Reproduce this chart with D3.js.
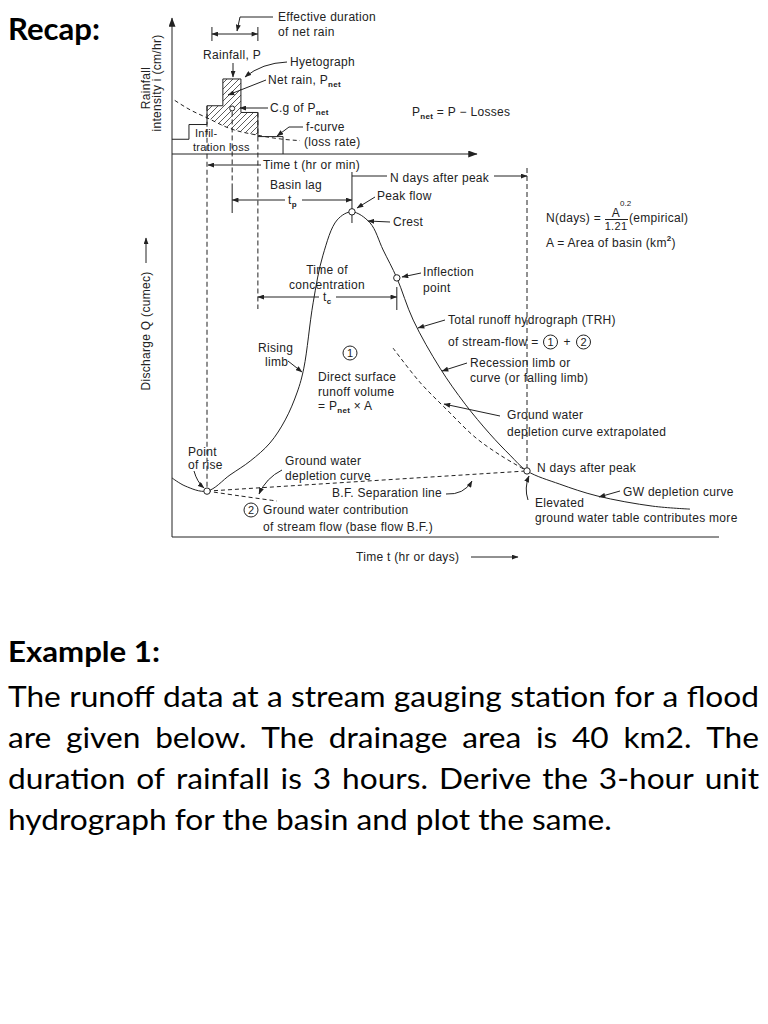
<!DOCTYPE html>
<html lang="en">
<head>
<meta charset="UTF-8">
<title>Hydrograph recap</title>
<script src="https://d3js.org/d3.v7.min.js"></script>
<style>
  body { margin: 0; background: #fff; }
  svg { display: block; }
  .lbl { font-family: "Liberation Sans", Arial, sans-serif; font-size: 12px; fill: #222; letter-spacing: 0.3px; }
  .ln { fill: none; stroke: #222; stroke-width: 1; }
</style>
</head>
<body>
<svg id="chart" width="768" height="1024"></svg>
<script>
// rainfall hyetograph: step edges (time units) and gross intensity (cm/hr) of each step
const rainEdges = [0, 3.1, 6.4, 9.3, 12.6, 15.7, 20.3];
const rainIntensity = [1.1, 2.2, 3.6, 5.6, 3.1, 1.3];

// infiltration capacity, f-curve (loss rate)
const fCurveTime = [0.5, 3.3, 6.4, 10.6, 15.7, 20.3, 23.4];
const fCurveRate = [4.0, 3.3, 2.7, 1.9, 1.4, 1.1, 1.0];

// total runoff hydrograph (discharge, relative units)
const trhTime = [0, 2.4, 6.4, 10.6, 14.3, 17.9, 20.7, 22.9, 24.1, 25.8, 27.6, 30.2, 32.9, 36.2, 38.6, 41.1, 44.1, 49.0, 53.6, 58.1, 61.8, 64.9, 70.9, 77.7, 87.9, 94.7];
const trhFlow = [16.1, 13.9, 12.5, 16.9, 20.7, 25.6, 31.9, 39.5, 46.0, 63.8, 76.8, 86.4, 88.6, 85.6, 78.2, 70.6, 59.1, 46.0, 36.2, 28.1, 22.3, 18.0, 14.4, 11.2, 8.4, 7.6];

// ground water depletion before the rise, extrapolated recession, base flow separation
const gwBeforeTime = [6.4, 12.4, 19.2];
const gwBeforeFlow = [12.5, 11.2, 9.8];
const gwExtrapTime = [40.4, 45.3, 50.3, 55.4, 60.0, 64.9];
const gwExtrapFlow = [51.5, 42.2, 34.6, 27.2, 22.3, 18.0];
const bfSepTime = [6.4, 64.9];
const bfSepFlow = [12.5, 18.0];

// marked points on the hydrograph
const pointNames = ["Point of rise", "Peak flow", "Inflection point", "N days after peak"];
const pointTime = [6.4, 32.9, 41.1, 64.9];
const pointFlow = [12.5, 88.6, 70.6, 18.0];

// instants on the rainfall side
const netRainTime = [7.3, 15.7];   // effective duration of net rain
const cgTime = 11.0, cgRate = 3.4; // centre of gravity of Pnet

const bodyLines = [
  "The runoff data at a stream gauging station for a flood",
  "are given below. The drainage area is 40 km2. The",
  "duration of rainfall is 3 hours. Derive the 3-hour unit",
  "hydrograph for the basin and plot the same."
];

const svg = d3.select("#chart");
const x = d3.scaleLinear([0, 100], [172, 719]);
const yQ = d3.scaleLinear([0, 100], [537, 170]);
const yR = d3.scaleLinear([0, 10], [154, 20]);

// markers + hatch
const defs = svg.append("defs");
defs.append("marker").attr("id", "arr").attr("viewBox", "0 0 8 6")
    .attr("refX", 7.5).attr("refY", 3).attr("markerWidth", 7).attr("markerHeight", 5)
    .attr("markerUnits", "userSpaceOnUse").attr("orient", "auto-start-reverse")
  .append("path").attr("d", "M0,0L8,3L0,6Z").attr("fill", "#222");
defs.append("marker").attr("id", "arrBig").attr("viewBox", "0 0 8 6")
    .attr("refX", 7.5).attr("refY", 3).attr("markerWidth", 10).attr("markerHeight", 7)
    .attr("markerUnits", "userSpaceOnUse").attr("orient", "auto-start-reverse")
  .append("path").attr("d", "M0,0L8,3L0,6Z").attr("fill", "#222");
defs.append("pattern").attr("id", "hatch").attr("patternUnits", "userSpaceOnUse")
    .attr("width", 6).attr("height", 6)
  .append("path").attr("d", "M-1,1L1,-1M0,6L6,0M5,7L7,5")
    .attr("stroke", "#333").attr("stroke-width", 0.8);

const rainSteps = rainEdges.map((t, i) => ({ t, r: i < rainIntensity.length ? rainIntensity[i] : 0 }));
defs.append("clipPath").attr("id", "rainClip")
  .append("path")
  .attr("d", d3.area().curve(d3.curveStepAfter).x(d => x(d.t)).y0(yR(0)).y1(d => yR(d.r))(rainSteps));
defs.append("clipPath").attr("id", "netClip")
  .append("rect").attr("x", x(rainEdges[2])).attr("width", x(rainEdges[5]) - x(rainEdges[2]))
  .attr("y", 0).attr("height", 200);

const g = svg.append("g");

// axes
g.append("line").attr("class", "ln").attr("x1", x(0)).attr("x2", x(0))
  .attr("y1", yQ(0)).attr("y2", 18).attr("marker-end", "url(#arrBig)");
g.append("line").attr("class", "ln").attr("x1", x(0)).attr("x2", 477)
  .attr("y1", yR(0)).attr("y2", yR(0)).attr("marker-end", "url(#arrBig)");
g.append("line").attr("class", "ln").attr("x1", x(0)).attr("x2", x(100))
  .attr("y1", yQ(0)).attr("y2", yQ(0)).attr("stroke", "#555");

// Pnet hatch between rain steps and f-curve
const fPts = fCurveTime.map((t, i) => ({ t, r: fCurveRate[i] }));
g.append("g").attr("clip-path", "url(#rainClip)")
  .append("g").attr("clip-path", "url(#netClip)")
  .append("path").attr("fill", "url(#hatch)")
  .attr("d", d3.area().curve(d3.curveMonotoneX).x(d => x(d.t)).y0(d => yR(d.r)).y1(yR(10))(fPts));

// hyetograph outline
g.append("path").attr("class", "ln").attr("stroke", "#444").attr("stroke-width", 1.1)
  .attr("d", d3.line().curve(d3.curveStepAfter).x(d => x(d.t)).y(d => yR(d.r))(rainSteps));

// f-curve
g.append("path").attr("class", "ln").attr("stroke", "#444").attr("stroke-dasharray", "4,3")
  .attr("d", d3.line().curve(d3.curveMonotoneX).x(d => x(d.t)).y(d => yR(d.r))(fPts));

// dashed guides
const vdash = (t, y1, y2) => g.append("line").attr("class", "ln").attr("stroke", "#444")
  .attr("stroke-dasharray", "5,3").attr("x1", x(t)).attr("x2", x(t)).attr("y1", y1).attr("y2", y2);
vdash(rainEdges[2], yR(rainIntensity[2]), yQ(pointFlow[0]) - 3);
vdash(cgTime, yR(cgRate) + 3, 188);
vdash(rainEdges[5], yR(rainIntensity[4]), 309);
vdash(pointTime[3], 168, yQ(pointFlow[3]) - 3);

// hydrograph curves
const trhPts = trhTime.map((t, i) => ({ t, q: trhFlow[i] }));
const qLine = d3.line().curve(d3.curveCatmullRom.alpha(0.5)).x(d => x(d.t)).y(d => yQ(d.q));
g.append("path").attr("class", "ln").attr("stroke-width", 1.2).attr("d", qLine(trhPts));
g.append("path").attr("class", "ln").attr("stroke-dasharray", "4,3")
  .attr("d", qLine(gwBeforeTime.map((t, i) => ({ t, q: gwBeforeFlow[i] }))));
g.append("path").attr("class", "ln").attr("stroke-dasharray", "4,3")
  .attr("d", qLine(gwExtrapTime.map((t, i) => ({ t, q: gwExtrapFlow[i] }))));
g.append("path").attr("class", "ln").attr("stroke-dasharray", "4,3")
  .attr("d", d3.line().x(d => x(d.t)).y(d => yQ(d.q))(bfSepTime.map((t, i) => ({ t, q: bfSepFlow[i] }))));

// dimension lines
const seg = (x1, y1, x2, y2, start, end) => {
  const l = g.append("line").attr("class", "ln").attr("x1", x1).attr("y1", y1).attr("x2", x2).attr("y2", y2);
  if (start) l.attr("marker-start", "url(#arr)");
  if (end) l.attr("marker-end", "url(#arr)");
  return l;
};
// effective duration
seg(x(netRainTime[0]), 34, x(netRainTime[1]), 34, true, true);
seg(x(netRainTime[0]), 27, x(netRainTime[0]), 41);
seg(x(netRainTime[1]), 27, x(netRainTime[1]), 41);
// time t (hr or min)
seg(261, 165, x(rainEdges[2]) + 1, 165, false, true);
// basin lag
seg(x(cgTime), 188, x(cgTime), 213);
seg(x(cgTime), 200, 285, 200, true, false);
seg(302, 200, x(pointTime[1]), 200, false, true);
seg(x(pointTime[1]), 172, x(pointTime[1]), 223);
// N days after peak
seg(x(pointTime[1]), 176, 387, 176);
seg(494, 176, x(pointTime[3]), 176, false, true);
// time of concentration
seg(x(rainEdges[5]), 297, 319, 297, true, false);
seg(336, 297, x(pointTime[2]), 297, false, true);
seg(x(pointTime[2]), 287, x(pointTime[2]), 310);

// leaders
const leaders = [
  "M273,17 L240,17 L237,31",
  "M233,63 L233,77",
  "M287,62 Q262,63 245,77",
  "M266,80 L228,95",
  "M268,108 L240,108",
  "M303,127 L289,127 L277,136",
  "M375,197 L357,208",
  "M390,222 L368,221",
  "M421,273 L402,277",
  "M288,361 L302,372",
  "M445,320 L418,328",
  "M467,363 L442,371",
  "M500,416 L444,404",
  "M194,471 Q197,482 204,488",
  "M282,470 Q266,478 259,494",
  "M446,494 Q464,495 472,481",
  "M528,500 Q524,488 529,476",
  "M620,491 L599,497"
];
g.selectAll(".leader").data(leaders).join("path").attr("class", "ln leader")
  .attr("stroke-width", 0.9).attr("d", d => d).attr("marker-end", "url(#arr)");

// point markers
g.selectAll(".pt").data(pointNames).join("circle").attr("class", "pt")
  .attr("cx", (d, i) => x(pointTime[i])).attr("cy", (d, i) => yQ(pointFlow[i]))
  .attr("r", 3.2).attr("fill", "#fff").attr("stroke", "#222");
g.append("circle").attr("cx", x(cgTime)).attr("cy", yR(cgRate)).attr("r", 2.5)
  .attr("fill", "#fff").attr("stroke", "#222");

// labels
function label(px, py, parts, anchor, size) {
  const t = g.append("text").attr("class", "lbl").attr("x", px).attr("y", py)
    .attr("text-anchor", anchor || "start");
  if (size) t.style("font-size", size + "px");
  let shift = 0;
  (typeof parts === "string" ? [[parts]] : parts).forEach(([s, kind]) => {
    const want = kind === "sub" ? 3 : kind === "sup" ? -6 : 0;
    const ts = t.append("tspan").attr("dy", want - shift).text(s);
    if (kind) ts.style("font-size", "8px").style("font-weight", "bold");
    shift = want;
  });
  return t;
}
function circled(cx, cy, n) {
  g.append("circle").attr("cx", cx).attr("cy", cy).attr("r", 7).attr("fill", "#fff").attr("stroke", "#222");
  g.append("text").attr("class", "lbl").attr("x", cx).attr("y", cy + 4)
    .attr("text-anchor", "middle").style("font-size", "11px").style("letter-spacing", 0).text(n);
}

label(278, 21, "Effective duration");
label(278, 36, "of net  rain");
label(203, 59, "Rainfall, P");
label(290, 66, "Hyetograph");
label(268, 84, [["Net rain, P"], ["net", "sub"]]);
label(270, 112, [["C.g of P"], ["net", "sub"]]);
label(306, 131, "f-curve");
label(304, 146, "(loss rate)");
label(195, 137, "Infil-", null, 11);
label(193, 151, "tration loss", null, 11);
label(412, 116, [["P"], ["net", "sub"], [" = P \u2212 Losses"]]);
label(263, 169, "Time t (hr or min)");
label(390, 182, "N days after peak");
label(270, 189, "Basin lag");
label(288, 204, [["t"], ["p", "sub"]]);
label(377, 200, "Peak flow");
label(393, 226, "Crest");

// N(days) formula
label(546, 222, "N(days) =");
label(616, 217, "A", "middle");
label(620, 206, "0.2", null, 8).style("letter-spacing", 0);
g.append("line").attr("class", "ln").attr("x1", 605).attr("x2", 628).attr("y1", 219.5).attr("y2", 219.5);
label(616, 230, "1.21", "middle", 11);
label(629, 222, "(empirical)");
label(546, 247, [["A = Area of basin (km"], ["2", "sup"], [")"]]);

label(423, 276, "Inflection");
label(423, 292, "point");
label(327, 274, "Time of", "middle");
label(327, 289, "concentration", "middle");
label(323, 301, [["t"], ["c", "sub"]]);

label(448, 324, "Total runoff hydrograph (TRH)");
const sf = label(448, 346, "of stream-flow =");
const sfEnd = 448 + sf.node().getComputedTextLength();
circled(sfEnd + 12, 342, "1");
label(sfEnd + 25, 346, "+");
circled(sfEnd + 45, 342, "2");

label(258, 352, "Rising");
label(265, 366, "limb");
circled(350, 353, "1");
label(318, 381, "Direct surface");
label(318, 396, "runoff volume");
label(318, 410, [["= P"], ["net", "sub"], [" \u00d7 A"]]);

label(470, 367, "Recession limb or");
label(470, 382, "curve (or falling limb)");
label(507, 419, "Ground water");
label(507, 436, "depletion curve extrapolated");

label(188, 456, "Point");
label(188, 469, "of rise");
label(285, 465, "Ground water");
label(285, 480, "depletion curve");
label(332, 497, "B.F. Separation line");
circled(251, 510, "2");
label(263, 514, "Ground water contribution");
label(263, 531, "of stream flow (base flow B.F.)");

label(537, 472, "N days after peak");
label(623, 496, "GW depletion curve");
label(535, 507, "Elevated");
label(535, 522, "ground water table contributes more");

label(356, 561, "Time t (hr or days)");
seg(471, 557, 518, 557, false, true);

// rotated axis titles
label(0, 0, "Rainfall", "middle").attr("transform", "translate(150,88) rotate(-90)");
label(0, 0, "intensity i (cm/hr)", "middle").attr("transform", "translate(161,83) rotate(-90)");
label(0, 0, "Discharge Q (cumec)", "middle").attr("transform", "translate(150,331) rotate(-90)");
seg(146, 263, 146, 238, false, true);

// slide text (Calibri-like, squeezed to the slide widths)
function fitted(str, px, py, size, weight, width) {
  const t = svg.append("text").style("font-family", "Lato, 'Open Sans', sans-serif")
    .style("font-size", size + "px").style("font-weight", weight).style("fill", "#000").text(str);
  const k = width / t.node().getComputedTextLength();
  t.attr("transform", `translate(${px},${py}) scale(${k},1)`);
  return k;
}
fitted("Recap:", 8, 40, 30, "bold", 92);
fitted("Example 1:", 8, 662, 29, "bold", 152);

const bodyY = [707, 748, 789, 830];
const k = fitted(bodyLines[3], 8, bodyY[3], 29, "normal", 604);
bodyLines.slice(0, 3).forEach((str, li) => {
  const t = svg.append("text").style("font-family", "Lato, 'Open Sans', sans-serif")
    .style("font-size", "29px").style("fill", "#000")
    .attr("transform", `translate(8,${bodyY[li]}) scale(${k},1)`);
  const words = str.split(" ");
  const spans = words.map(w => t.append("tspan").text(w));
  const widths = spans.map(s => s.node().getComputedTextLength());
  const gap = (751 / k - d3.sum(widths)) / (words.length - 1);
  let cx = 0;
  spans.forEach((s, i) => { s.attr("x", cx).attr("y", 0); cx += widths[i] + gap; });
});
</script>
</body>
</html>
